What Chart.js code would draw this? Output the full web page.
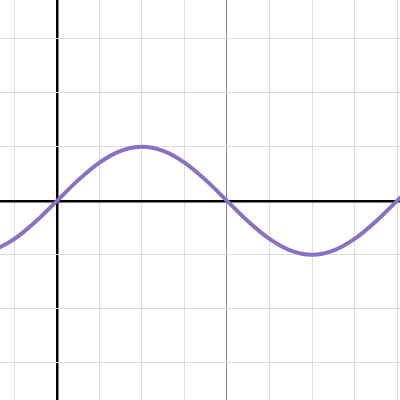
<!DOCTYPE html>
<html><head>
<script src="https://cdn.jsdelivr.net/npm/chart.js@4"></script>
<style>html,body{margin:0;padding:0;background:#fff}#wrap{width:400px;height:400px}</style>
</head><body>
<div id="wrap"><canvas id="c"></canvas></div>
<script>
// x in grid cells
const xs = [-1.5, -1, -0.5, 0, 0.5, 1, 1.5, 2, 2.5, 3, 3.5, 4, 4.5, 5, 5.5, 6, 6.5, 7, 7.5, 8, 8.5];
const ys = [-0.924, -0.707, -0.383, 0, 0.383, 0.707, 0.924, 1, 0.924, 0.707, 0.383, 0, -0.383, -0.707, -0.924, -1, -0.924, -0.707, -0.383, 0, 0.383];
const xTicks = [-1, 0, 1, 2, 3, 4, 5, 6, 7, 8];
const yTicks = [-3, -2, -1, 0, 1, 2, 3];

const gridColor = (major) => ctx => {
  const v = ctx.tick && ctx.tick.value;
  if (v === 0) return '#000';
  if (major && v === 4) return '#888';
  return '#ddd';
};
const gridWidth = ctx => (ctx.tick && ctx.tick.value === 0) ? 2.5 : 1;

new Chart(document.getElementById('c'), {
  type: 'line',
  data: {
    datasets: [{
      data: xs.map((x, i) => ({ x, y: ys[i] })),
      borderColor: '#8a70c0',
      borderWidth: 4,
      pointRadius: 0,
      tension: 0.4,
      cubicInterpolationMode: 'monotone'
    }]
  },
  options: {
    responsive: true,
    maintainAspectRatio: false,
    animation: false,
    layout: { padding: 0 },
    plugins: { legend: { display: false }, tooltip: { enabled: false } },
    scales: {
      x: {
        type: 'linear', min: -1.34, max: 8.07,
        afterBuildTicks: s => { s.ticks = xTicks.map(v => ({ value: v })); },
        ticks: { display: false },
        border: { display: false },
        grid: { drawTicks: false, color: gridColor(true), lineWidth: gridWidth }
      },
      y: {
        min: -3.69, max: 3.72,
        afterBuildTicks: s => { s.ticks = yTicks.map(v => ({ value: v })); },
        ticks: { display: false },
        border: { display: false },
        grid: { drawTicks: false, color: gridColor(false), lineWidth: gridWidth }
      }
    }
  }
});
</script>
</body></html>
